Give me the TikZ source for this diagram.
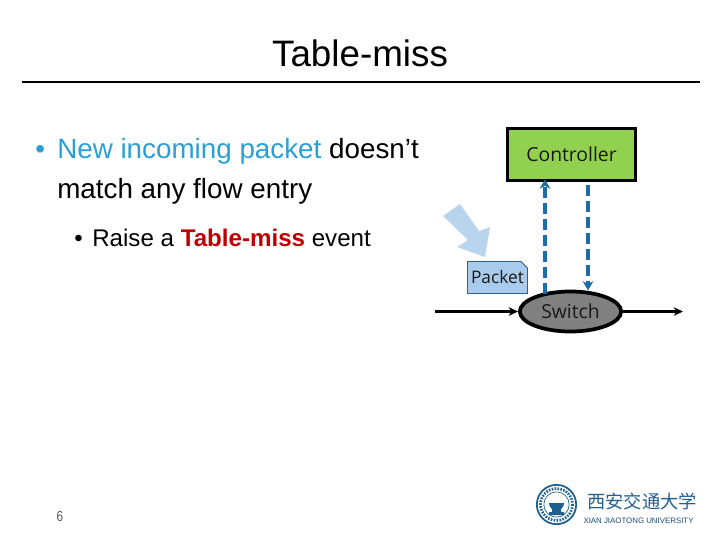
\documentclass[tikz,border=0pt]{standalone}
\usepackage{fontspec}
\setmainfont{Liberation Sans}
\newfontfamily\labelfont{Open Sans}
\newfontfamily\cjkfont{Noto Sans CJK SC}
\usetikzlibrary{shapes.geometric,arrows.meta}
\definecolor{linkblue}{HTML}{2A9FD6}
\definecolor{deepblue}{HTML}{1C6CA8}
\definecolor{leaf}{HTML}{92D050}
\definecolor{pale}{HTML}{B9D5EE}
\definecolor{pktfill}{HTML}{A9CBEC}
\definecolor{pktline}{HTML}{2F5F8F}
\definecolor{missred}{HTML}{C00000}
\definecolor{logoblue}{HTML}{1F5F8F}
\tikzset{
  px/.style={x=0.75pt,y=-0.75pt},
  bodytext/.style={anchor=base west,inner sep=0,font=\fontsize{20.85}{25}\selectfont},
  subtext/.style={anchor=base west,inner sep=0,font=\fontsize{18.1}{22}\selectfont},
  wire/.style={line width=2.3pt,-{Stealth[length=7pt,width=6.5pt]}},
  ctrl/.style={deepblue,line width=2.5pt,dash pattern=on 8pt off 4pt},
  ctrlhead/.style={-{Stealth[length=7pt,width=8pt]}},
  tiplabel/.style={inner sep=0,text=black!90,font=\labelfont\fontsize{14.5}{17}\selectfont}
}
\begin{document}
\begin{tikzpicture}[px]
\useasboundingbox (0,0) rectangle (720,540);
\node[inner sep=0,font=\fontsize{27.6}{32}\selectfont] (title) at (360,53) {Table-miss};
\coordinate (ruleL) at (22,82); \coordinate (ruleR) at (700,82);
\draw[line width=1.9pt] (ruleL) -- (ruleR);

\node[bodytext,text=linkblue] (bul1) at (35,158) {•};
\node[bodytext] (t1) at (57,158) {\textcolor{linkblue}{New incoming packet} doesn’t};
\node[bodytext] (t2) at (57,198) {match any flow entry};
\node[subtext] (bul2) at (74,246) {•};
\node[subtext] (t3) at (92,246) {Raise a \textcolor{missred}{\textbf{Table-miss}} event};

\node[draw=black,fill=leaf,line width=2.8pt,minimum width=96pt,minimum height=39pt,inner sep=0,anchor=center,tiplabel] (ctrl) at (571.5,154.5) {Controller};
\node[ellipse,draw=black,fill=black!50,line width=2.8pt,minimum width=76pt,minimum height=30pt,inner sep=0,tiplabel] (sw) at (570.5,311.5) {Switch};

\coordinate (in) at (435,311.5); \coordinate (out) at (683,311.5);
\draw[wire] (in) -- (sw.west);
\draw[wire] (sw.east) -- (out);

\path (sw.center) ++(-25.5,-18) coordinate (upS);
\path (sw.center) ++(17.5,-21) coordinate (dnS);
\draw[ctrl,ctrlhead,shorten >=-2.2pt] (upS) -- (upS |- ctrl.south);
\draw[ctrl,ctrlhead,shorten <=2.2pt] (dnS |- ctrl.south) -- (dnS);

\fill[pale] (443,216) -- (460,204) -- (479,231) -- (490,227) -- (485,257) -- (457,247) -- (468,240) -- cycle;

\draw[pktline,fill=pktfill,line width=0.6pt] (467.5,261.5) -- (521,261.5) -- (527.5,268) -- (527.5,293.5) -- (467.5,293.5) -- cycle;
\node[tiplabel,font=\labelfont\fontsize{13}{15}\selectfont] (pkt) at (497.5,277) {Packet};

\node[inner sep=0,text=black!65,font=\fontsize{11}{13}\selectfont,xscale=0.8] (pg) at (60,516) {6};

% logo
\node[circle,draw=logoblue,line width=1.3pt,minimum size=29.5pt,inner sep=0] (seal) at (556.5,504.5) {};
\draw[logoblue,line width=2pt,dash pattern=on 1.2pt off 1pt] (seal.center) circle (16);
\node[circle,draw=logoblue,line width=0.5pt,minimum size=19pt,inner sep=0] (sealin) at (seal.center) {};
\fill[logoblue] (549,512) rectangle (564,515) (552,503) rectangle (561,512);
\fill[logoblue] (549,503) arc[start angle=180,end angle=0,radius=7.5] -- cycle;
\node[inner sep=0,text=logoblue,font=\cjkfont\fontsize{13.7}{16}\selectfont] (cn) at (642,501) {西安交通大学};
\node[inner sep=0,text=logoblue!80!black,font=\fontsize{5.9}{7}\selectfont] (en) at (638.5,521) {XIAN JIAOTONG UNIVERSITY};
\end{tikzpicture}
\end{document}
